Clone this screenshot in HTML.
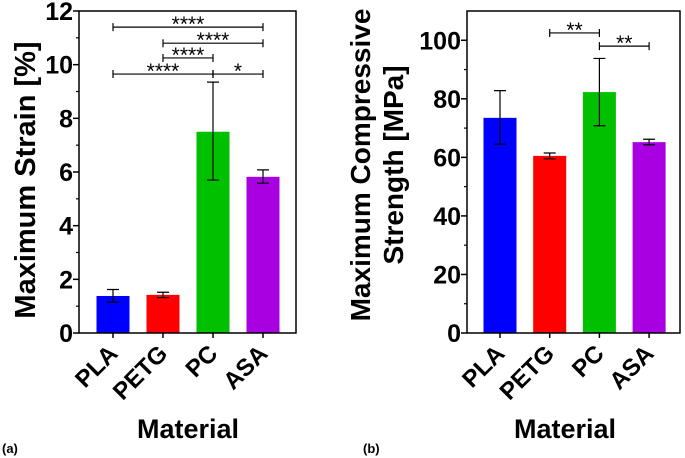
<!DOCTYPE html>
<html><head><meta charset="utf-8"><style>
body{margin:0;background:#fff;}
svg{display:block;font-family:"Liberation Sans",Arial,sans-serif;font-weight:bold;}
</style></head><body>
<svg id="chart" width="685" height="458" viewBox="0 0 685 458"></svg>
<script>
const categories = ["PLA","PETG","PC","ASA"];
const colors = ["#0000ff","#ff0000","#00c000","#a800e0"];
const strainMeans = [1.38, 1.42, 7.5, 5.82];
const strainHi = [1.62, 1.52, 9.35, 6.08];
const strainLo = [1.15, 1.32, 5.7, 5.58];
const strengthMeans = [73.5, 60.5, 82.3, 65.2];
const strengthHi = [82.8, 61.5, 93.8, 66.2];
const strengthLo = [64.5, 59.5, 70.8, 64.3];
const strainTicks = [0,2,4,6,8,10,12];
const strengthTicks = [0,20,40,60,80,100];
const strainSig = [[0,3,11.4,"****"],[1,3,10.8,"****"],[1,2,10.25,"****"],[0,2,9.65,"****"],[2,3,9.65,"*"]];
const strengthSig = [[1,2,102.5,"**"],[2,3,98,"**"]];

const svg = document.getElementById('chart');
const NS = "http://www.w3.org/2000/svg";
function mk(tag, attrs, parent){
  const e = document.createElementNS(NS, tag);
  for (const k in attrs) e.setAttribute(k, attrs[k]);
  (parent||svg).appendChild(e); return e;
}
function panel(cfg){
  const g = mk('g', {});
  
  
  const y = v => cfg.y0 - (v/cfg.ymax)*(cfg.y0-cfg.y1);
  const x = i => cfg.x0 + cfg.first + i*cfg.step;
  cfg.means.forEach((m,i)=>{
    const b = mk('rect',{x:x(i)-16.5,y:y(m),width:33,height:cfg.y0-y(m),fill:colors[i]},g);
    
    
    const e = mk('path',{d:`M${x(i)},${y(cfg.hi[i])}V${y(cfg.lo[i])}M${x(i)-6},${y(cfg.hi[i])}h12M${x(i)-6},${y(cfg.lo[i])}h12`,stroke:'#000','stroke-width':1.2,fill:'none'},g);
    
    
  });
  const f = mk('rect',{x:cfg.x0,y:cfg.y1,width:cfg.x2-cfg.x0,height:cfg.y0-cfg.y1,fill:'none',stroke:'#000','stroke-width':1.5},g);
  
  
  cfg.ticks.forEach((t,i)=>{
    mk('line',{x1:cfg.x0-6,x2:cfg.x0,y1:y(t),y2:y(t),stroke:'#000','stroke-width':1.5},g);
    const tl = mk('text',{x:cfg.x0-6,y:y(t)+9,'text-anchor':'end','font-size':25},g);
    tl.textContent = t;
    
    
    if (i<cfg.ticks.length-1){
      const mt=(t+cfg.ticks[i+1])/2;
      mk('line',{x1:cfg.x0-3,x2:cfg.x0,y1:y(mt),y2:y(mt),stroke:'#000','stroke-width':1.2},g);
    }
  });
  categories.forEach((c,i)=>{
    mk('line',{x1:x(i),x2:x(i),y1:cfg.y0,y2:cfg.y0+5,stroke:'#000','stroke-width':1.5},g);
    const tl = mk('text',{x:x(i)+6,y:cfg.y0+22,'text-anchor':'end','font-size':24,transform:`rotate(-45 ${x(i)+6} ${cfg.y0+22})`},g);
    tl.textContent = c;
    
    
  });
  cfg.sig.forEach(s=>{
    const yy=y(s[2]);
    mk('path',{d:`M${x(s[0])},${yy}H${x(s[1])}M${x(s[0])},${yy-4}v8M${x(s[1])},${yy-4}v8`,stroke:'#000','stroke-width':1.2,fill:'none'},g);
    const st=mk('text',{x:(x(s[0])+x(s[1]))/2,y:yy+4,'text-anchor':'middle','font-size':21,'font-weight':'normal'},g);
    st.textContent=s[3];
    
    
  });
  const xt=mk('text',{x:cfg.xtx,y:438,'text-anchor':'middle','font-size':27},g);
  xt.textContent='Material';
  
  
  cfg.ytitle.forEach((line,k)=>{
    const yt=mk('text',{x:0,y:0,'text-anchor':'middle','font-size':cfg.yfs,transform:`translate(${cfg.ytx+k*33},${cfg.yty}) rotate(-90)`},g);
    yt.textContent=line;
    
    
  });
}
panel({name:'strain-chart',x0:79,x2:296,y0:333,y1:11,ymax:12,first:34,step:50,means:strainMeans,hi:strainHi,lo:strainLo,ticks:strainTicks,sig:strainSig,xtx:188,ytitle:['Maximum Strain [%]'],ytx:35,yty:180,yfs:29});
panel({name:'strength-chart',x0:467,x2:680,y0:333,y1:11,ymax:110,first:33,step:49.7,means:strengthMeans,hi:strengthHi,lo:strengthLo,ticks:strengthTicks,sig:strengthSig,xtx:565,ytitle:['Maximum Compressive','Strength [MPa]'],ytx:370,yty:165,yfs:28});
const a=mk('text',{x:2,y:453,'font-size':13}); a.textContent='(a)';


const b=mk('text',{x:363,y:453,'font-size':13}); b.textContent='(b)';


</script>
</body></html>
